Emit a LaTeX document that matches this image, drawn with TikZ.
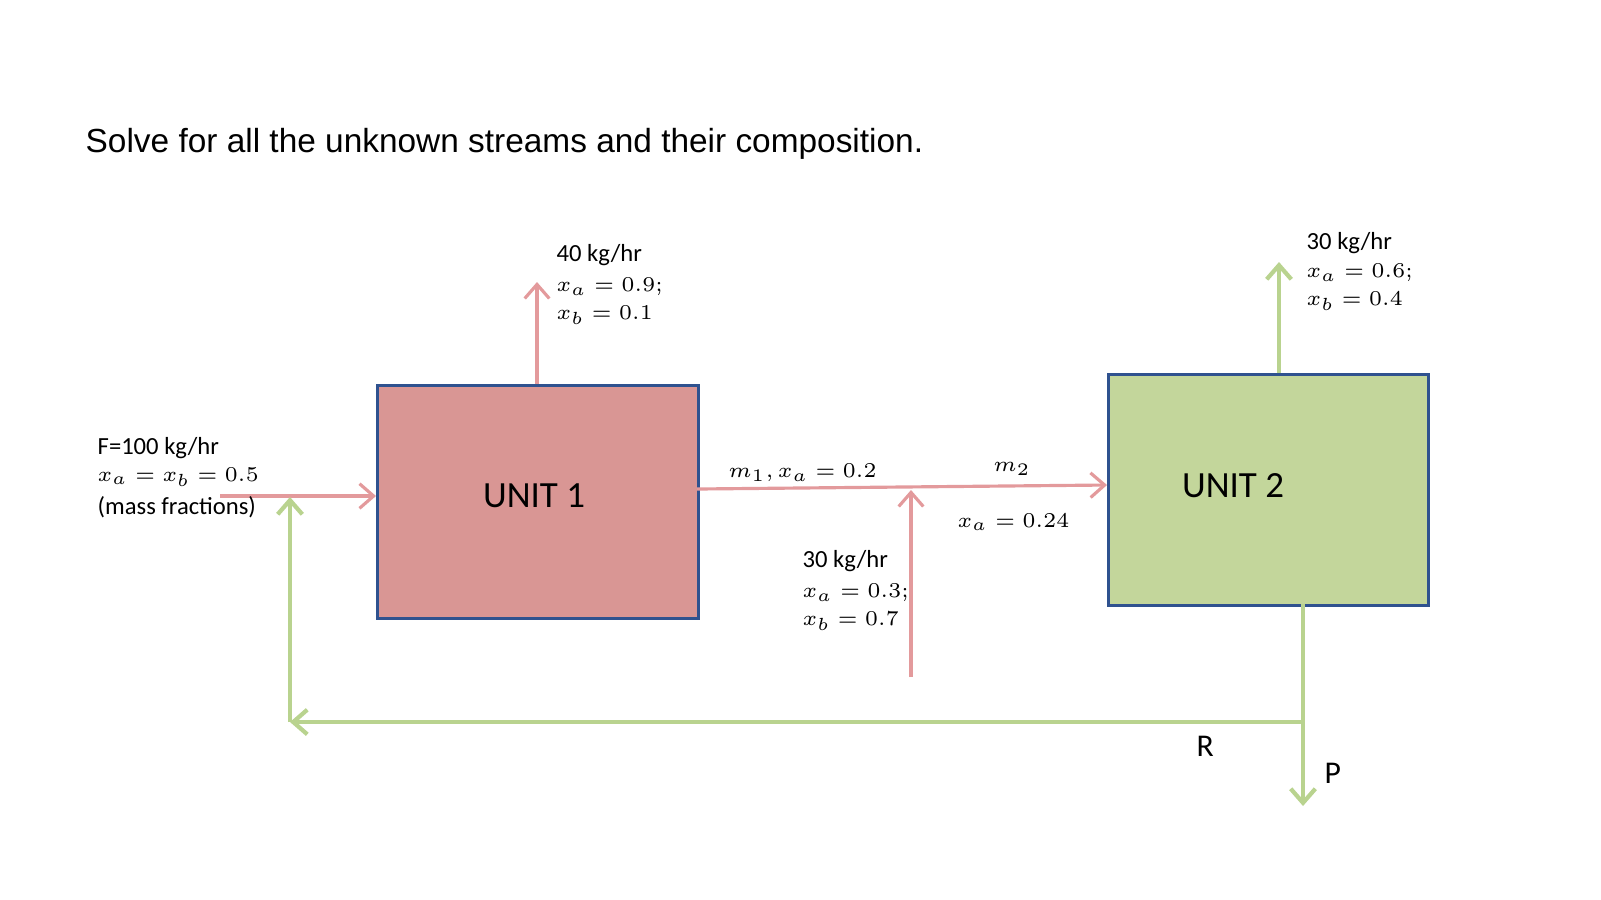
\documentclass[tikz,border=0pt]{standalone}
\usepackage{fontspec}
\setmainfont{Carlito}
\newfontfamily\titlefont{Liberation Sans}
\usetikzlibrary{arrows.meta}
\definecolor{boxline}{HTML}{2F528F}
\definecolor{redfill}{HTML}{D99694}
\definecolor{greenfill}{HTML}{C3D69B}
\definecolor{redline}{HTML}{E39A9C}
\definecolor{greenline}{HTML}{B9D38F}
\tikzset{
  unitbox/.style={draw=boxline,line width=0.9pt,anchor=north west,inner sep=0pt},
  redarrow/.style={draw=redline,line width=0.9pt,-{Straight Barb[length=4pt,width=7pt,line width=0.9pt]}},
  greenarrow/.style={draw=greenline,line width=1.2pt,-{Straight Barb[length=4pt,width=7pt,line width=1.2pt]}},
  lbl/.style={anchor=west,inner sep=0pt,font=\fontsize{7}{8}\selectfont},
  mlbl/.style={anchor=west,inner sep=0pt,font=\fontsize{6.5}{7}\selectfont},
  unitlbl/.style={font=\fontsize{10.5}{12}\selectfont}
}
\begin{document}
\begin{tikzpicture}[x=0.01cm,y=-0.01cm]
\useasboundingbox (0,0) rectangle (1601,899);
\node[anchor=west,inner sep=0pt,font=\titlefont\fontsize{9.5}{11}\selectfont] (title) at (85,144) {Solve for all the unknown streams and their composition.};
\node[unitbox,fill=redfill,minimum width=3.21cm,minimum height=2.33cm] (u1) at (376,384) {};
\node[unitbox,fill=greenfill,minimum width=3.20cm,minimum height=2.31cm] (u2) at (1107,373) {};
\node[unitlbl] (u1t) at (534,496) {UNIT 1};
\node[unitlbl] (u2t) at (1233,486) {UNIT 2};
\coordinate (fin) at (220,496);
\coordinate (u1w) at (376,496);
\coordinate (u1n) at (537,384);
\coordinate (top1) at (537,282);
\coordinate (m1s) at (697,489);
\coordinate (m2e) at (1107,485);
\coordinate (sidein) at (911,677);
\coordinate (sideend) at (911,490);
\coordinate (u2n) at (1279,373);
\coordinate (top2) at (1279,262);
\coordinate (u2s) at (1303,604);
\coordinate (pend) at (1303,806);
\coordinate (split) at (1303,722);
\coordinate (rcorner) at (290,722);
\coordinate (rend) at (290,497);
\draw[redarrow] (fin) -- (u1w);
\draw[redarrow] (u1n) -- (top1);
\draw[redarrow] (m1s) -- (m2e);
\draw[redarrow] (sidein) -- (sideend);
\draw[greenarrow] (u2n) -- (top2);
\draw[greenarrow] (u2s) -- (pend);
\draw[greenarrow] (split) -- (rcorner);
\draw[greenarrow] (rcorner) -- (rend);
\node[lbl] (l1) at (556,255) {40 kg/hr};
\node[mlbl] (l2) at (556,287) {$x_a=0.9;$};
\node[mlbl] (l3) at (556,315) {$x_b=0.1$};
\node[lbl] (l4) at (1306,243) {30 kg/hr};
\node[mlbl] (l5) at (1306,273) {$x_a=0.6;$};
\node[mlbl] (l6) at (1306,301) {$x_b=0.4$};
\node[lbl] (l7) at (97,448) {F=100 kg/hr};
\node[mlbl] (l8) at (97,477) {$x_a=x_b=0.5$};
\node[lbl] (l9) at (97,507) {(mass fractions)};
\node[mlbl] (l10) at (728,473) {$m_1, x_a=0.2$};
\node[mlbl] (l11) at (993,469) {$m_2$};
\node[mlbl] (l12) at (957,522) {$x_a=0.24$};
\node[lbl] (l13) at (802,561) {30 kg/hr};
\node[mlbl] (l14) at (802,593) {$x_a=0.3;$};
\node[mlbl] (l15) at (802,621) {$x_b=0.7$};
\node[lbl,font=\fontsize{9}{10}\selectfont] (lr) at (1196,746) {R};
\node[lbl,font=\fontsize{9}{10}\selectfont] (lp) at (1324,773) {P};
\end{tikzpicture}
\end{document}
